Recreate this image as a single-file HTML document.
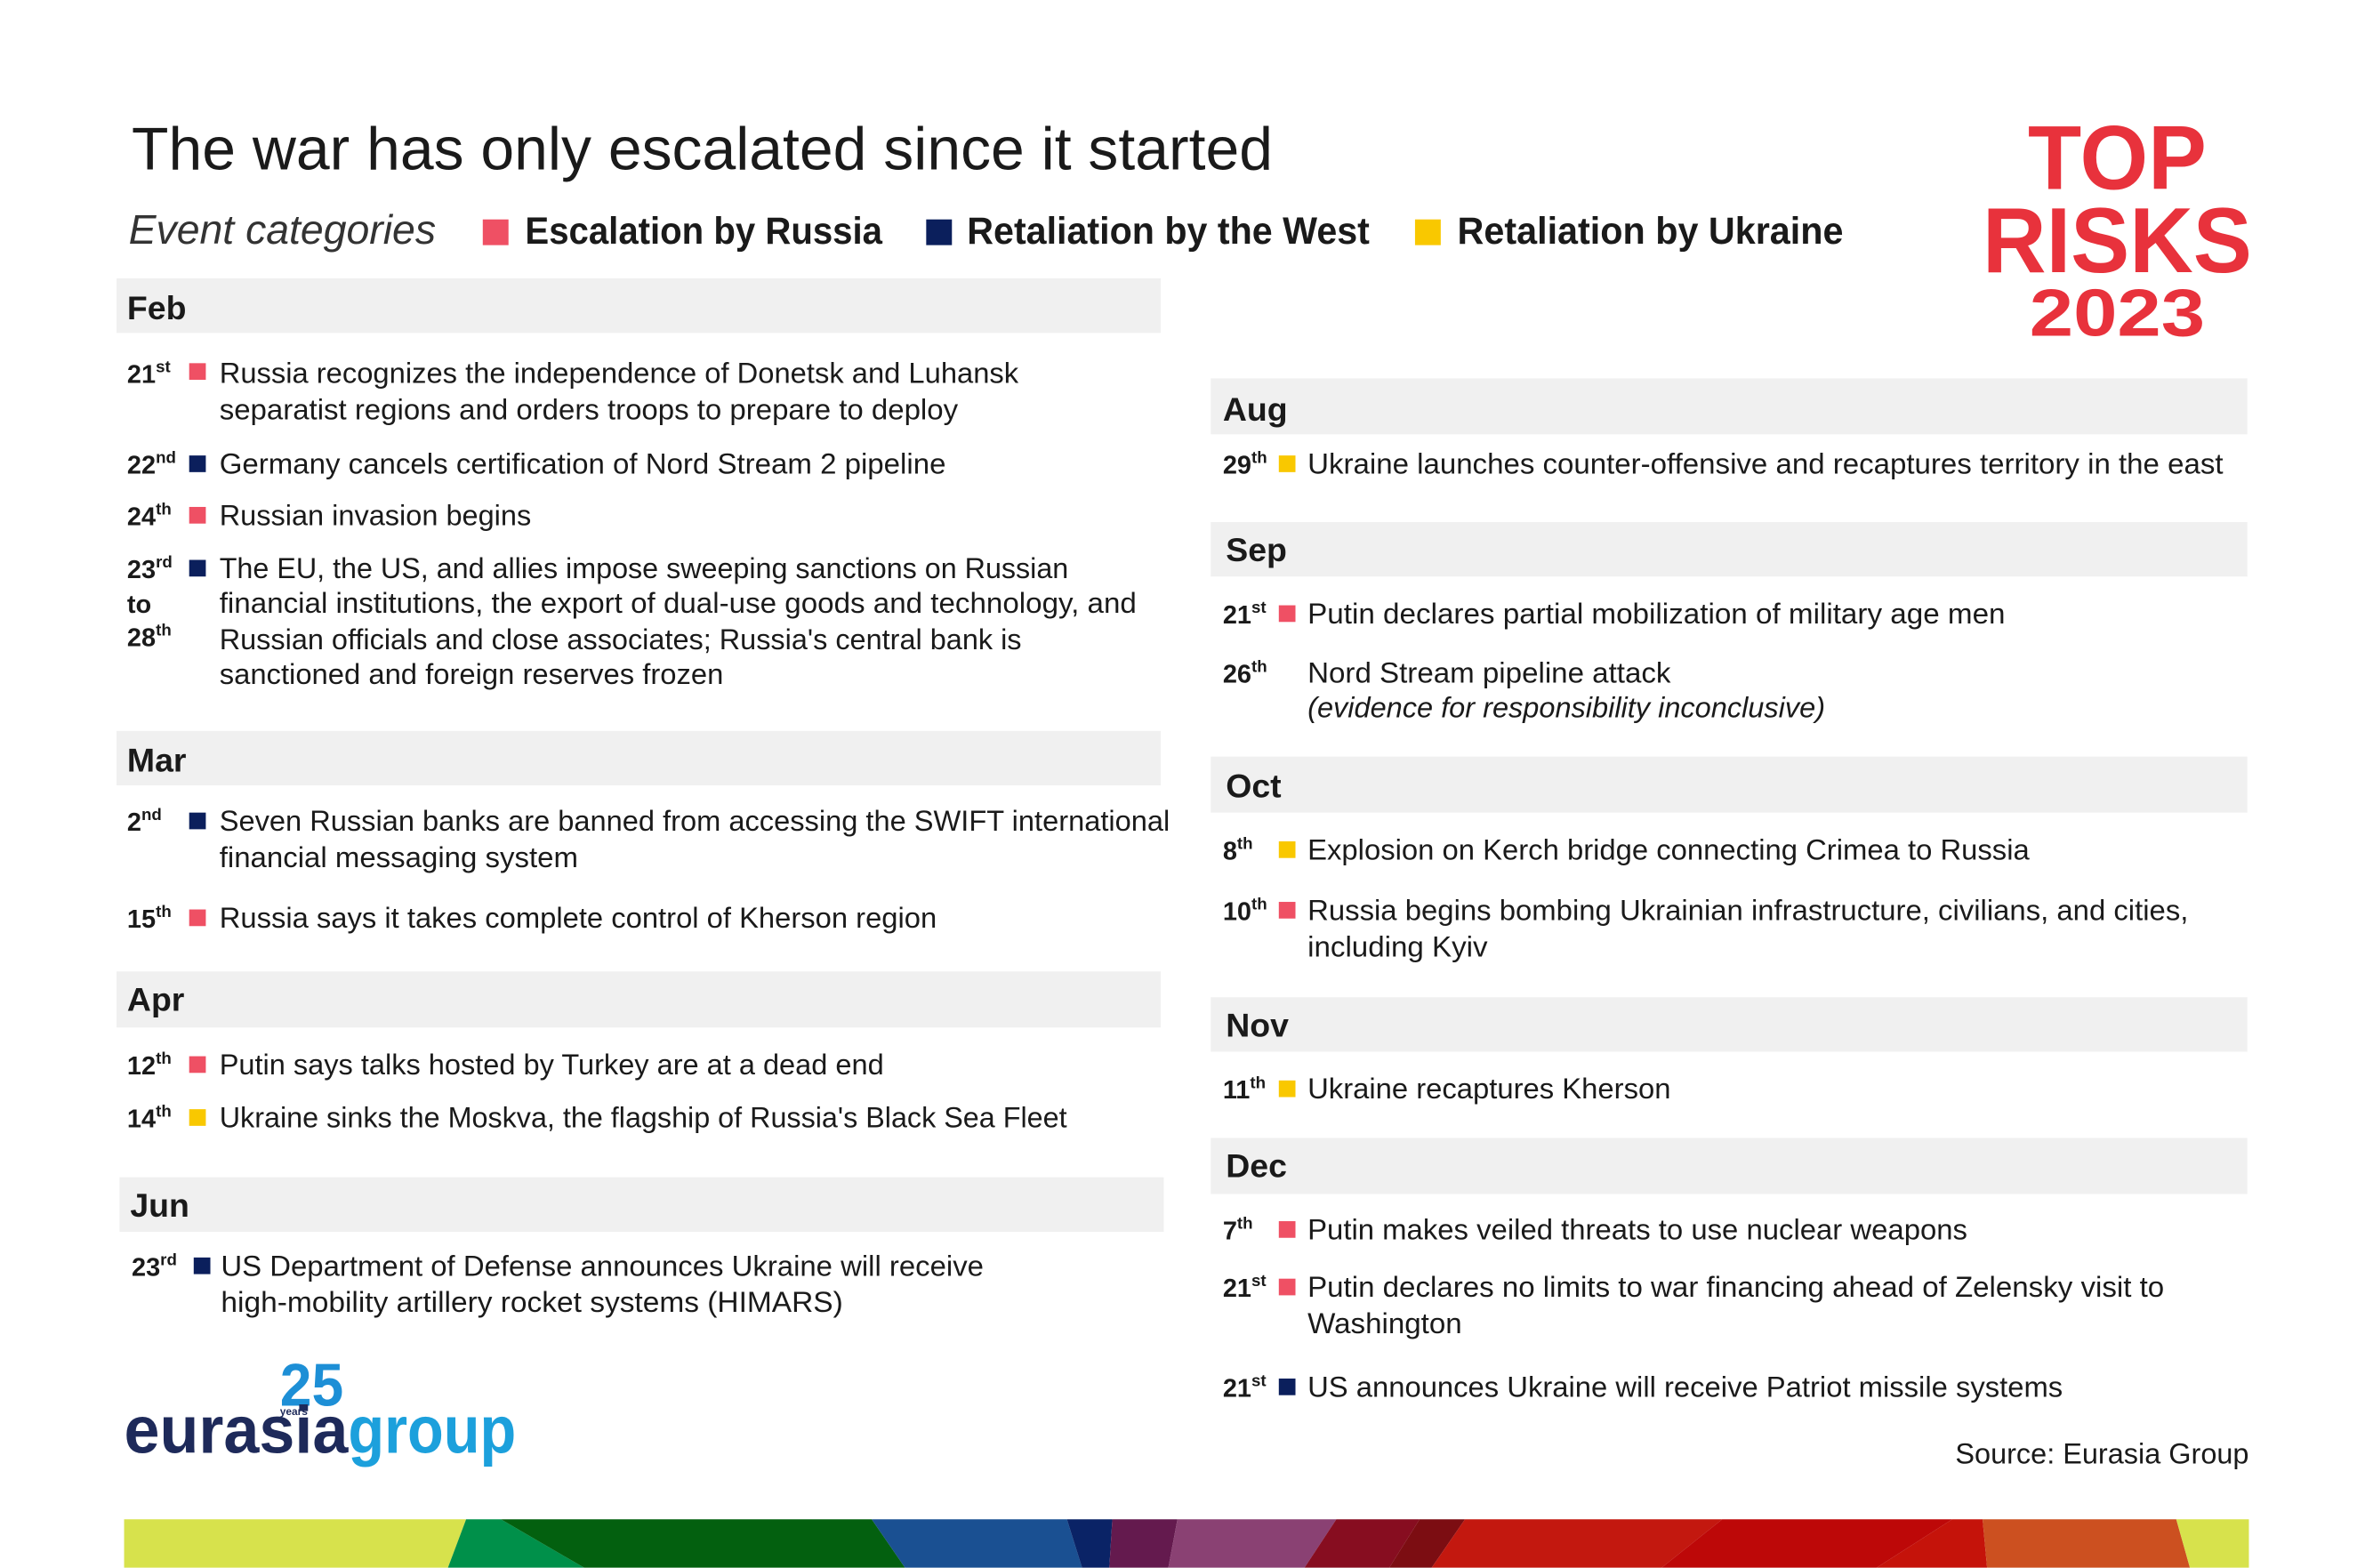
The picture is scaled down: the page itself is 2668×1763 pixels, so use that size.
<!DOCTYPE html>
<html><head><meta charset="utf-8"><style>
html,body{margin:0;padding:0;background:#fff;}
svg{display:block;}
text{font-family:"Liberation Sans",sans-serif;fill:#1a1a1a;}
.b{font-size:19px;}
.d{font-size:17px;font-weight:bold;}
.m{font-size:22px;font-weight:bold;}
</style></head><body>
<svg width="2668" height="1763" viewBox="0 0 1568 1036.2" preserveAspectRatio="none" xmlns="http://www.w3.org/2000/svg">
<rect width="1568" height="1036.2" fill="#fff"/>
<text x="87" y="112" font-size="40" textLength="754" lengthAdjust="spacingAndGlyphs">The war has only escalated since it started</text>

<g>
<text x="85" y="161" font-size="27" font-style="italic" textLength="203" lengthAdjust="spacingAndGlyphs" style="fill:#333">Event categories</text>
<rect x="319" y="145" width="17" height="17" fill="#ef5064"/>
<text x="347" y="161" font-size="25" font-weight="bold" textLength="236" lengthAdjust="spacingAndGlyphs">Escalation by Russia</text>
<rect x="612" y="145" width="17" height="17" fill="#0b1f5c"/>
<text x="639" y="161" font-size="25" font-weight="bold" textLength="266" lengthAdjust="spacingAndGlyphs">Retaliation by the West</text>
<rect x="935" y="145" width="17" height="17" fill="#f9c800"/>
<text x="963" y="161" font-size="25" font-weight="bold" textLength="255" lengthAdjust="spacingAndGlyphs">Retaliation by Ukraine</text>
</g>

<g style="font-weight:bold">
<text x="1340" y="125" font-size="60" textLength="118" lengthAdjust="spacingAndGlyphs" style="fill:#e8323c">TOP</text>
<text x="1310" y="180" font-size="61" textLength="178" lengthAdjust="spacingAndGlyphs" style="fill:#e8323c">RISKS</text>
<text x="1341" y="222" font-size="44" textLength="116" lengthAdjust="spacingAndGlyphs" style="fill:#e8323c">2023</text>
</g>

<!-- Month headers -->
<g>
<rect x="77" y="184" width="690" height="36" fill="#f0f0f0"/><text class="m" x="84" y="211">Feb</text>
<rect x="77" y="483" width="690" height="36" fill="#f0f0f0"/><text class="m" x="84" y="510">Mar</text>
<rect x="77" y="642" width="690" height="37" fill="#f0f0f0"/><text class="m" x="84" y="668">Apr</text>
<rect x="79" y="778" width="690" height="36" fill="#f0f0f0"/><text class="m" x="86" y="804">Jun</text>
<rect x="800" y="250" width="685" height="37" fill="#f0f0f0"/><text class="m" x="808" y="278">Aug</text>
<rect x="800" y="345" width="685" height="36" fill="#f0f0f0"/><text class="m" x="810" y="371">Sep</text>
<rect x="800" y="500" width="685" height="37" fill="#f0f0f0"/><text class="m" x="810" y="527">Oct</text>
<rect x="800" y="659" width="685" height="36" fill="#f0f0f0"/><text class="m" x="810" y="685">Nov</text>
<rect x="800" y="752" width="685" height="37" fill="#f0f0f0"/><text class="m" x="810" y="778">Dec</text>
</g>

<!-- Left column events -->
<g>
<text class="d" x="84" y="253">21<tspan font-size="11" dy="-7">st</tspan></text>
<rect x="125" y="240" width="11" height="11" fill="#ef5064"/>
<text class="b" x="145" y="253" textLength="528" lengthAdjust="spacingAndGlyphs">Russia recognizes the independence of Donetsk and Luhansk</text>
<text class="b" x="145" y="277" textLength="488" lengthAdjust="spacingAndGlyphs">separatist regions and orders troops to prepare to deploy</text>
</g>
<g>
<text class="d" x="84" y="313">22<tspan font-size="11" dy="-7">nd</tspan></text>
<rect x="125" y="301" width="11" height="11" fill="#0b1f5c"/>
<text class="b" x="145" y="313" textLength="480" lengthAdjust="spacingAndGlyphs">Germany cancels certification of Nord Stream 2 pipeline</text>
</g>
<g>
<text class="d" x="84" y="347">24<tspan font-size="11" dy="-7">th</tspan></text>
<rect x="125" y="335" width="11" height="11" fill="#ef5064"/>
<text class="b" x="145" y="347" textLength="206" lengthAdjust="spacingAndGlyphs">Russian invasion begins</text>
</g>
<g>
<text class="d" x="84" y="382">23<tspan font-size="11" dy="-7">rd</tspan></text>
<text class="d" x="84" y="405">to</text>
<text class="d" x="84" y="427">28<tspan font-size="11" dy="-7">th</tspan></text>
<rect x="125" y="370" width="11" height="11" fill="#0b1f5c"/>
<text class="b" x="145" y="382" textLength="561" lengthAdjust="spacingAndGlyphs">The EU, the US, and allies impose sweeping sanctions on Russian</text>
<text class="b" x="145" y="405" textLength="606" lengthAdjust="spacingAndGlyphs">financial institutions, the export of dual-use goods and technology, and</text>
<text class="b" x="145" y="429" textLength="530" lengthAdjust="spacingAndGlyphs">Russian officials and close associates; Russia's central bank is</text>
<text class="b" x="145" y="452" textLength="333" lengthAdjust="spacingAndGlyphs">sanctioned and foreign reserves frozen</text>
</g>
<g>
<text class="d" x="84" y="549">2<tspan font-size="11" dy="-7">nd</tspan></text>
<rect x="125" y="537" width="11" height="11" fill="#0b1f5c"/>
<text class="b" x="145" y="549" textLength="628" lengthAdjust="spacingAndGlyphs">Seven Russian banks are banned from accessing the SWIFT international</text>
<text class="b" x="145" y="573" textLength="237" lengthAdjust="spacingAndGlyphs">financial messaging system</text>
</g>
<g>
<text class="d" x="84" y="613">15<tspan font-size="11" dy="-7">th</tspan></text>
<rect x="125" y="601" width="11" height="11" fill="#ef5064"/>
<text class="b" x="145" y="613" textLength="474" lengthAdjust="spacingAndGlyphs">Russia says it takes complete control of Kherson region</text>
</g>
<g>
<text class="d" x="84" y="710">12<tspan font-size="11" dy="-7">th</tspan></text>
<rect x="125" y="698" width="11" height="11" fill="#ef5064"/>
<text class="b" x="145" y="710" textLength="439" lengthAdjust="spacingAndGlyphs">Putin says talks hosted by Turkey are at a dead end</text>
</g>
<g>
<text class="d" x="84" y="745">14<tspan font-size="11" dy="-7">th</tspan></text>
<rect x="125" y="733" width="11" height="11" fill="#f9c800"/>
<text class="b" x="145" y="745" textLength="560" lengthAdjust="spacingAndGlyphs">Ukraine sinks the Moskva, the flagship of Russia's Black Sea Fleet</text>
</g>
<g>
<text class="d" x="87" y="843">23<tspan font-size="11" dy="-7">rd</tspan></text>
<rect x="128" y="831" width="11" height="11" fill="#0b1f5c"/>
<text class="b" x="146" y="843" textLength="504" lengthAdjust="spacingAndGlyphs">US Department of Defense announces Ukraine will receive</text>
<text class="b" x="146" y="867" textLength="411" lengthAdjust="spacingAndGlyphs">high-mobility artillery rocket systems (HIMARS)</text>
</g>

<!-- Right column events -->
<g>
<text class="d" x="808" y="313">29<tspan font-size="11" dy="-7">th</tspan></text>
<rect x="845" y="301" width="11" height="11" fill="#f9c800"/>
<text class="b" x="864" y="313" textLength="605" lengthAdjust="spacingAndGlyphs">Ukraine launches counter-offensive and recaptures territory in the east</text>
</g>
<g>
<text class="d" x="808" y="412">21<tspan font-size="11" dy="-7">st</tspan></text>
<rect x="845" y="400" width="11" height="11" fill="#ef5064"/>
<text class="b" x="864" y="412" textLength="461" lengthAdjust="spacingAndGlyphs">Putin declares partial mobilization of military age men</text>
</g>
<g>
<text class="d" x="808" y="451">26<tspan font-size="11" dy="-7">th</tspan></text>
<text class="b" x="864" y="451" textLength="240" lengthAdjust="spacingAndGlyphs">Nord Stream pipeline attack</text>
<text class="b" x="864" y="474" font-style="italic" textLength="342" lengthAdjust="spacingAndGlyphs">(evidence for responsibility inconclusive)</text>
</g>
<g>
<text class="d" x="808" y="568">8<tspan font-size="11" dy="-7">th</tspan></text>
<rect x="845" y="556" width="11" height="11" fill="#f9c800"/>
<text class="b" x="864" y="568" textLength="477" lengthAdjust="spacingAndGlyphs">Explosion on Kerch bridge connecting Crimea to Russia</text>
</g>
<g>
<text class="d" x="808" y="608">10<tspan font-size="11" dy="-7">th</tspan></text>
<rect x="845" y="596" width="11" height="11" fill="#ef5064"/>
<text class="b" x="864" y="608" textLength="582" lengthAdjust="spacingAndGlyphs">Russia begins bombing Ukrainian infrastructure, civilians, and cities,</text>
<text class="b" x="864" y="632" textLength="119" lengthAdjust="spacingAndGlyphs">including Kyiv</text>
</g>
<g>
<text class="d" x="808" y="726">11<tspan font-size="11" dy="-7">th</tspan></text>
<rect x="845" y="714" width="11" height="11" fill="#f9c800"/>
<text class="b" x="864" y="726" textLength="240" lengthAdjust="spacingAndGlyphs">Ukraine recaptures Kherson</text>
</g>
<g>
<text class="d" x="808" y="819">7<tspan font-size="11" dy="-7">th</tspan></text>
<rect x="845" y="807" width="11" height="11" fill="#ef5064"/>
<text class="b" x="864" y="819" textLength="436" lengthAdjust="spacingAndGlyphs">Putin makes veiled threats to use nuclear weapons</text>
</g>
<g>
<text class="d" x="808" y="857">21<tspan font-size="11" dy="-7">st</tspan></text>
<rect x="845" y="845" width="11" height="11" fill="#ef5064"/>
<text class="b" x="864" y="857" textLength="566" lengthAdjust="spacingAndGlyphs">Putin declares no limits to war financing ahead of Zelensky visit to</text>
<text class="b" x="864" y="881" textLength="102" lengthAdjust="spacingAndGlyphs">Washington</text>
</g>
<g>
<text class="d" x="808" y="923">21<tspan font-size="11" dy="-7">st</tspan></text>
<rect x="845" y="911" width="11" height="11" fill="#0b1f5c"/>
<text class="b" x="864" y="923" textLength="499" lengthAdjust="spacingAndGlyphs">US announces Ukraine will receive Patriot missile systems</text>
</g>

<text class="b" x="1486" y="967" text-anchor="end" textLength="194" lengthAdjust="spacingAndGlyphs">Source: Eurasia Group</text>

<g style="font-weight:bold">
<text x="185" y="929" font-size="40" textLength="42" lengthAdjust="spacingAndGlyphs" style="fill:#1d8fd6">25</text>
<text x="185" y="935" font-size="7" style="fill:#1e2a5a">years</text>
<text x="82" y="960" font-size="44" textLength="148" lengthAdjust="spacingAndGlyphs" style="fill:#1e2a5a">eurasia</text>
<text x="230" y="960" font-size="44" textLength="111" lengthAdjust="spacingAndGlyphs" style="fill:#1ca0dc">group</text>
</g>

<g>
<polygon points="82,1004 308,1004 296,1036 82,1036" fill="#d7e24c"/>
<polygon points="308,1004 331,1004 386,1036 296,1036" fill="#00904a"/>
<polygon points="331,1004 576,1004 598,1036 386,1036" fill="#03600f"/>
<polygon points="576,1004 705,1004 715,1036 598,1036" fill="#1a5092"/>
<polygon points="705,1004 735,1004 733,1036 715,1036" fill="#0a2366"/>
<polygon points="735,1004 778,1004 772,1036 733,1036" fill="#641a4e"/>
<polygon points="778,1004 883,1004 862,1036 772,1036" fill="#8a4173"/>
<polygon points="883,1004 938,1004 918,1036 862,1036" fill="#870d20"/>
<polygon points="938,1004 968,1004 946,1036 918,1036" fill="#7c0d12"/>
<polygon points="968,1004 1138,1004 1098,1036 946,1036" fill="#c3180f"/>
<polygon points="1138,1004 1290,1004 1240,1036 1098,1036" fill="#bd0808"/>
<polygon points="1290,1004 1310,1004 1313,1036 1240,1036" fill="#c5130a"/>
<polygon points="1310,1004 1438,1004 1447,1036 1313,1036" fill="#cc5020"/>
<polygon points="1438,1004 1486,1004 1486,1036 1447,1036" fill="#d7e24c"/>
</g>
</svg>
</body></html>
